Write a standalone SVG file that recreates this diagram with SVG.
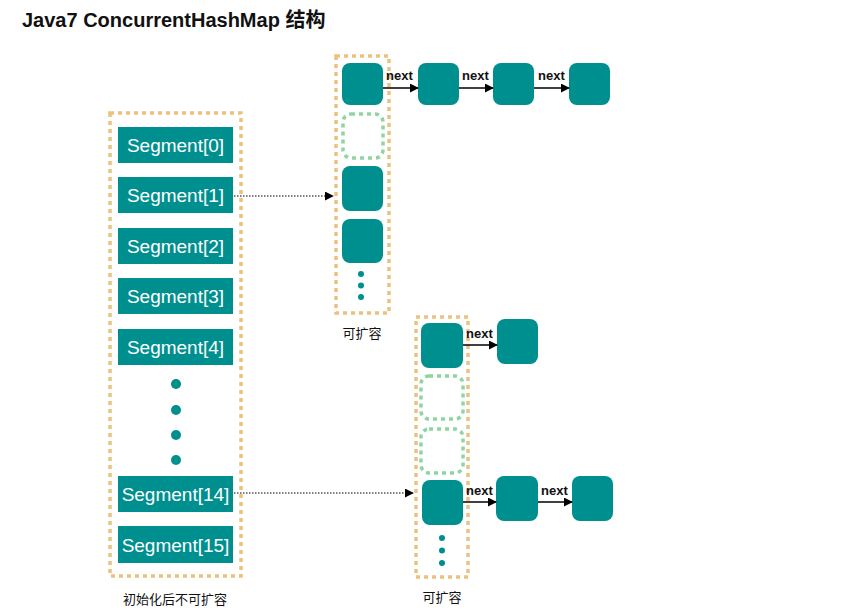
<svg xmlns="http://www.w3.org/2000/svg" width="853" height="610" viewBox="0 0 853 610">
<defs>
<style>
.seg{fill:#008F8F;}
.segt{fill:#fff;font-family:"Liberation Sans",Arial,sans-serif;font-size:19px;text-anchor:middle;}
.node{fill:#008F8F;}
.box{fill:none;stroke:#EEC17F;stroke-width:3.5;stroke-dasharray:4 4;}
.empty{fill:none;stroke:#8ED5A2;stroke-width:3.5;stroke-dasharray:4 4;}
.dot{fill:#008F8F;}
.lbl{font-family:"Liberation Sans","Noto Sans CJK SC",sans-serif;font-size:13px;text-anchor:middle;fill:#111;}
.nxt{font-family:"Liberation Sans",Arial,sans-serif;font-size:13px;font-weight:bold;fill:#111;}
.solid{stroke:#000;stroke-width:1.5;fill:none;}
.dotted{stroke:#000;stroke-width:1.2;stroke-dasharray:1.5 1.5;fill:none;}
</style>
<marker id="ah" viewBox="0 0 10 10" refX="9" refY="5" markerWidth="9" markerHeight="9" markerUnits="userSpaceOnUse" orient="auto">
<path d="M0,0 L10,5 L0,10 z" fill="#000"/>
</marker>
</defs>
<rect width="853" height="610" fill="#fff"/>
<text x="22" y="27" font-family="'Liberation Sans','Noto Sans CJK SC',sans-serif" font-size="20" font-weight="bold" fill="#111">Java7 ConcurrentHashMap 结构</text>

<g id="segments">
<rect class="box" x="110" y="113" width="131" height="463"/>
<g id="seg0"><rect class="seg" x="118" y="127" width="115" height="36"/><text class="segt" x="175.5" y="152">Segment[0]</text></g>
<g id="seg1"><rect class="seg" x="118" y="177" width="115" height="36"/><text class="segt" x="175.5" y="202">Segment[1]</text></g>
<g id="seg2"><rect class="seg" x="118" y="228" width="115" height="36"/><text class="segt" x="175.5" y="253">Segment[2]</text></g>
<g id="seg3"><rect class="seg" x="118" y="278" width="115" height="36"/><text class="segt" x="175.5" y="303">Segment[3]</text></g>
<g id="seg4"><rect class="seg" x="118" y="329" width="115" height="36"/><text class="segt" x="175.5" y="354">Segment[4]</text></g>
<circle class="dot" cx="176" cy="384" r="5"/>
<circle class="dot" cx="176" cy="410" r="5"/>
<circle class="dot" cx="176" cy="435" r="5"/>
<circle class="dot" cx="176" cy="460" r="5"/>
<g id="seg14"><rect class="seg" x="118" y="476" width="115" height="36"/><text class="segt" x="175.5" y="501">Segment[14]</text></g>
<g id="seg15"><rect class="seg" x="118" y="526" width="115" height="37"/><text class="segt" x="175.5" y="552">Segment[15]</text></g>
<text class="lbl" x="175" y="604">初始化后不可扩容</text>
</g>

<g id="table1">
<rect class="box" x="336" y="56" width="53" height="257"/>
<rect class="node" x="342" y="63" width="41" height="42" rx="8"/>
<rect class="empty" x="343" y="114" width="40" height="44" rx="8"/>
<rect class="node" x="342" y="166" width="41" height="45" rx="8"/>
<rect class="node" x="342" y="219" width="41" height="44" rx="8"/>
<circle class="dot" cx="361" cy="274" r="3"/>
<circle class="dot" cx="361" cy="285.5" r="3"/>
<circle class="dot" cx="361" cy="297" r="3"/>
<text class="lbl" x="362" y="338">可扩容</text>
</g>
<g id="chain1">
<rect class="node" x="418" y="63" width="41" height="42" rx="8"/>
<rect class="node" x="493" y="63" width="41" height="42" rx="8"/>
<rect class="node" x="569" y="63" width="41" height="42" rx="8"/>
</g>

<g id="table2">
<rect class="box" x="416" y="317" width="52" height="260"/>
<rect class="node" x="421" y="323" width="42" height="45" rx="8"/>
<rect class="empty" x="421" y="376" width="42" height="43" rx="8"/>
<rect class="empty" x="421" y="429" width="42" height="44" rx="8"/>
<rect class="node" x="422" y="480" width="41" height="45" rx="8"/>
<circle class="dot" cx="442" cy="538" r="3"/>
<circle class="dot" cx="442" cy="550.5" r="3"/>
<circle class="dot" cx="442" cy="563" r="3"/>
<text class="lbl" x="442" y="602">可扩容</text>
</g>
<g id="chain2">
<rect class="node" x="497" y="319" width="41" height="45" rx="8"/>
<rect class="node" x="496" y="476" width="42" height="45" rx="8"/>
<rect class="node" x="572" y="476" width="41" height="45" rx="8"/>
</g>

<g id="connectors">
<line class="solid" x1="383" y1="88" x2="418" y2="88" marker-end="url(#ah)"/>
<line class="solid" x1="459" y1="88" x2="493" y2="88" marker-end="url(#ah)"/>
<line class="solid" x1="534" y1="88" x2="569" y2="88" marker-end="url(#ah)"/>
<line class="solid" x1="463" y1="345" x2="497" y2="345" marker-end="url(#ah)"/>
<line class="solid" x1="463" y1="502" x2="496" y2="502" marker-end="url(#ah)"/>
<line class="solid" x1="538" y1="502" x2="572" y2="502" marker-end="url(#ah)"/>
<line class="dotted" x1="234" y1="196" x2="333" y2="196" marker-end="url(#ah)"/>
<line class="dotted" x1="234" y1="493" x2="413" y2="493" marker-end="url(#ah)"/>
<text class="nxt" x="386" y="80">next</text>
<text class="nxt" x="462" y="80">next</text>
<text class="nxt" x="538" y="80">next</text>
<text class="nxt" x="466" y="338">next</text>
<text class="nxt" x="466" y="495">next</text>
<text class="nxt" x="541" y="495">next</text>
</g>
</svg>
